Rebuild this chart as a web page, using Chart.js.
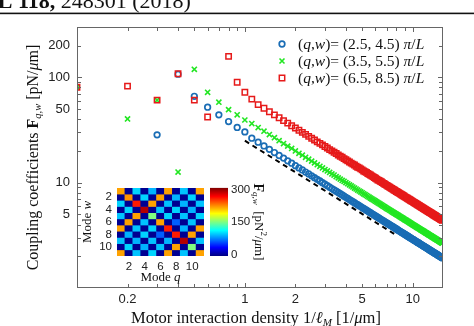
<!DOCTYPE html>
<html>
<head>
<meta charset="utf-8">
<script src="https://cdn.jsdelivr.net/npm/chart.js@4.4.1/dist/chart.umd.min.js"></script>
<style>
  html, body { margin: 0; padding: 0; background: #fff; }
  #wrap { position: relative; width: 474px; height: 326px; overflow: hidden; }
  #main { position: absolute; left: 0; top: 0; }
  #inset { position: absolute; left: 75px; top: 176px; }
</style>
</head>
<body>
<div id="wrap">
  <canvas id="main" width="474" height="326"></canvas>
  <canvas id="inset" width="200" height="110"></canvas>
</div>
<script>
// motor interaction density 1/l_M [1/um]
const densities = [
  0.1, 0.2, 0.3, 0.4, 0.5, 0.6, 0.7, 0.8, 0.9, 1.0,
  1.1, 1.2, 1.3, 1.4, 1.5, 1.6, 1.7, 1.8, 1.9, 2.0,
  2.1, 2.2, 2.3, 2.4, 2.5, 2.6, 2.7, 2.8, 2.9, 3.0,
  3.1, 3.2, 3.3, 3.4, 3.5, 3.6, 3.7, 3.8, 3.9, 4.0,
  4.1, 4.2, 4.3, 4.4, 4.5, 4.6, 4.7, 4.8, 4.9, 5.0,
  5.1, 5.2, 5.3, 5.4, 5.5, 5.6, 5.7, 5.8, 5.9, 6.0,
  6.1, 6.2, 6.3, 6.4, 6.5, 6.6, 6.7, 6.8, 6.9, 7.0,
  7.1, 7.2, 7.3, 7.4, 7.5, 7.6, 7.7, 7.8, 7.9, 8.0,
  8.1, 8.2, 8.3, 8.4, 8.5, 8.6, 8.7, 8.8, 8.9, 9.0,
  9.1, 9.2, 9.3, 9.4, 9.5, 9.6, 9.7, 9.8, 9.9, 10.0,
  10.1, 10.2, 10.3, 10.4, 10.5, 10.6, 10.7, 10.8, 10.9, 11.0,
  11.1, 11.2, 11.3, 11.4, 11.5, 11.6, 11.7, 11.8, 11.9, 12.0,
  12.1, 12.2, 12.3, 12.4, 12.5, 12.6, 12.7, 12.8, 12.9, 13.0,
  13.1, 13.2, 13.3, 13.4, 13.5, 13.6, 13.7, 13.8, 13.9, 14.0,
  14.1, 14.2, 14.3, 14.4, 14.5, 14.6, 14.7, 14.8, 14.9, 15.0
];

// (q,w) = (2.5, 4.5) pi/L
const blueCoef = [
  null, null, 28.4, 107, 66, 52, 44, 38, 33.4, 30.3,
  26.4, 24.2, 22.3, 20.7, 19.3, 18.1, 17.1, 16.1, 15.3, 14.5,
  13.8, 13.2, 12.6, 12.1, 11.6, 11.15, 10.74, 10.36, 10.0, 9.67,
  9.35, 9.06, 8.79, 8.53, 8.29, 8.06, 7.84, 7.63, 7.44, 7.25,
  7.07, 6.9, 6.74, 6.59, 6.44, 6.3, 6.17, 6.04, 5.92, 5.8,
  5.69, 5.58, 5.47, 5.37, 5.27, 5.18, 5.09, 5.0, 4.92, 4.83,
  4.75, 4.68, 4.6, 4.53, 4.46, 4.39, 4.33, 4.26, 4.2, 4.14,
  4.08, 4.03, 3.97, 3.92, 3.87, 3.82, 3.77, 3.72, 3.67, 3.63,
  3.58, 3.54, 3.49, 3.45, 3.41, 3.37, 3.33, 3.3, 3.26, 3.22,
  3.19, 3.15, 3.12, 3.09, 3.05, 3.02, 2.99, 2.96, 2.93, 2.9,
  2.87, 2.84, 2.82, 2.79, 2.76, 2.74, 2.71, 2.69, 2.66, 2.64,
  2.61, 2.59, 2.57, 2.54, 2.52, 2.5, 2.48, 2.46, 2.44, 2.42,
  2.4, 2.38, 2.36, 2.34, 2.32, 2.3, 2.28, 2.27, 2.25, 2.23,
  2.21, 2.2, 2.18, 2.16, 2.15, 2.13, 2.12, 2.1, 2.09, 2.07,
  2.06, 2.04, 2.03, 2.01, 2.0, 1.99, 1.97, 1.96, 1.95, 1.93
];

// (q,w) = (3.5, 5.5) pi/L
const greenCoef = [
  80.5, 40.2, 60.7, 12.6, 119, 72, 58, 49.3, 44, 39.3,
  36.4, 33.3, 30.8, 28.6, 26.7, 25.0, 23.5, 22.2, 21.1, 20.0,
  19.0, 18.2, 17.4, 16.7, 16.0, 15.4, 14.8, 14.3, 13.8, 13.3,
  12.9, 12.5, 12.1, 11.8, 11.4, 11.1, 10.8, 10.5, 10.3, 10.0,
  9.76, 9.52, 9.3, 9.09, 8.89, 8.7, 8.51, 8.33, 8.16, 8.0,
  7.84, 7.69, 7.55, 7.41, 7.27, 7.14, 7.02, 6.9, 6.78, 6.67,
  6.56, 6.45, 6.35, 6.25, 6.15, 6.06, 5.97, 5.88, 5.8, 5.71,
  5.63, 5.56, 5.48, 5.41, 5.33, 5.26, 5.19, 5.13, 5.06, 5.0,
  4.94, 4.88, 4.82, 4.76, 4.71, 4.65, 4.6, 4.55, 4.49, 4.44,
  4.4, 4.35, 4.3, 4.26, 4.21, 4.17, 4.12, 4.08, 4.04, 4.0,
  3.96, 3.92, 3.88, 3.85, 3.81, 3.77, 3.74, 3.7, 3.67, 3.64,
  3.6, 3.57, 3.54, 3.51, 3.48, 3.45, 3.42, 3.39, 3.36, 3.33,
  3.31, 3.28, 3.25, 3.23, 3.2, 3.17, 3.15, 3.13, 3.1, 3.08,
  3.05, 3.03, 3.01, 2.99, 2.96, 2.94, 2.92, 2.9, 2.88, 2.86,
  2.84, 2.82, 2.8, 2.78, 2.76, 2.74, 2.72, 2.7, 2.68, 2.67
];

// (q,w) = (6.5, 8.5) pi/L
const redCoef = [
  80.5, 82.4, 60.7, 108, 60.7, 42, null, 158, 89.8, 72,
  62, 55.0, 50.8, 47.1, 44.0, 41.3, 38.8, 36.7, 34.7, 33.0,
  31.4, 30.0, 28.7, 27.5, 26.4, 25.4, 24.4, 23.6, 22.8, 22.0,
  21.3, 20.6, 20.0, 19.4, 18.9, 18.3, 17.8, 17.4, 16.9, 16.5,
  16.1, 15.7, 15.3, 15.0, 14.7, 14.3, 14.0, 13.8, 13.5, 13.2,
  12.9, 12.7, 12.5, 12.2, 12.0, 11.8, 11.6, 11.4, 11.2, 11.0,
  10.8, 10.6, 10.5, 10.3, 10.2, 10.0, 9.85, 9.71, 9.57, 9.43,
  9.3, 9.17, 9.04, 8.92, 8.8, 8.68, 8.57, 8.46, 8.35, 8.25,
  8.15, 8.05, 7.95, 7.86, 7.76, 7.67, 7.59, 7.5, 7.42, 7.33,
  7.25, 7.17, 7.1, 7.02, 6.95, 6.88, 6.8, 6.73, 6.67, 6.6,
  6.53, 6.47, 6.41, 6.35, 6.29, 6.23, 6.17, 6.11, 6.06, 6.0,
  5.95, 5.89, 5.84, 5.79, 5.74, 5.69, 5.64, 5.59, 5.55, 5.5,
  5.45, 5.41, 5.37, 5.32, 5.28, 5.24, 5.2, 5.16, 5.12, 5.08,
  5.04, 5.0, 4.96, 4.93, 4.89, 4.85, 4.82, 4.78, 4.75, 4.71,
  4.68, 4.65, 4.62, 4.58, 4.55, 4.52, 4.49, 4.46, 4.43, 4.4
];

// dashed guide line ~ 1/x
const guideX = [1, 7.9];
const guideY = [25, 3.2];

const seriesNames = ['(2.5, 4.5)', '(3.5, 5.5)', '(6.5, 8.5)'];

const xTickValues = [0.1, 0.2, 0.3, 0.4, 0.5, 0.6, 0.7, 0.8, 0.9, 1, 2, 3, 4, 5, 6, 7, 8, 9, 10];
const xTickLabels = [0.2, 1, 2, 5, 10];
const yTickValues = [1, 2, 3, 4, 5, 6, 7, 8, 9, 10, 20, 30, 40, 50, 60, 70, 80, 90, 100, 200, 300];
const yTickLabels = [5, 10, 50, 100, 200];

// inset: F_{q,w} [pN^2/um], rows w = 1..11, columns q = 1..11
const modeQ = [1, 2, 3, 4, 5, 6, 7, 8, 9, 10, 11];
const modeW = [1, 2, 3, 4, 5, 6, 7, 8, 9, 10, 11];
const modeTicks = [2, 4, 6, 8, 10];
const modeMatrix = [
  [215, 5, 100, 5, 90, 5, 215, 5, 95, 5, 215],
  [5, 220, 5, 100, 5, 215, 5, 90, 5, 100, 5],
  [100, 5, 255, 5, 215, 5, 95, 5, 90, 5, 95],
  [5, 100, 5, 285, 5, 95, 5, 100, 5, 90, 5],
  [95, 5, 215, 5, 150, 5, 100, 5, 95, 5, 100],
  [5, 215, 5, 95, 5, 215, 5, 65, 5, 95, 5],
  [215, 5, 95, 5, 100, 5, 255, 5, 90, 5, 215],
  [5, 90, 5, 100, 5, 65, 5, 255, 5, 215, 5],
  [95, 5, 90, 5, 95, 5, 90, 5, 285, 5, 95],
  [5, 100, 5, 90, 5, 95, 5, 215, 5, 150, 5],
  [215, 5, 95, 5, 100, 5, 215, 5, 95, 5, 215]
];
const cbTicks = [0, 150, 300];
const cbMax = 300;

const serif = '"Liberation Serif", "DejaVu Serif", serif';
const sans = '"Liberation Sans", Arial, sans-serif';
const BLUE = '#1a6db5', GREEN = '#22e622', RED = '#e61a1a';

function f(size, style) {
  return (style || '') + ' ' + size + 'px ' + serif;
}

function jet(v) {
  const t = Math.max(0, Math.min(1, v / cbMax));
  const c = k => Math.round(255 * Math.max(0, Math.min(1, 1.5 - Math.abs(4 * t - k))));
  return 'rgb(' + c(3) + ',' + c(2) + ',' + c(1) + ')';
}

function pts(vals) {
  return densities.map((x, i) => ({ x: x, y: vals[i] })).filter(p => p.y !== null);
}

// draw text made of pieces with different fonts
function drawRich(ctx, parts, x, y, align) {
  let total = 0;
  parts.forEach(p => { ctx.font = p.font; p.w = ctx.measureText(p.text).width; total += p.w; });
  let cx = align === 'center' ? x - total / 2 : x;
  ctx.textAlign = 'left';
  parts.forEach(p => {
    ctx.font = p.font;
    ctx.fillText(p.text, cx, y + (p.dy || 0));
    cx += p.w;
  });
}

function marker(ctx, style, color, x, y) {
  ctx.save();
  ctx.strokeStyle = color;
  ctx.beginPath();
  if (style === 'circle') {
    ctx.lineWidth = 1.7;
    ctx.arc(x, y, 2.8, 0, Math.PI * 2);
  } else if (style === 'cross') {
    ctx.lineWidth = 1.6;
    ctx.moveTo(x - 2.5, y - 2.5); ctx.lineTo(x + 2.5, y + 2.5);
    ctx.moveTo(x + 2.5, y - 2.5); ctx.lineTo(x - 2.5, y + 2.5);
  } else {
    ctx.lineWidth = 1.5;
    ctx.rect(x - 2.7, y - 2.7, 5.4, 5.4);
  }
  ctx.stroke();
  ctx.restore();
}

const decorPlugin = {
  id: 'decor',
  afterDraw(chart) {
    const ctx = chart.ctx;
    const a = chart.chartArea;
    const xs = chart.scales.x, ys = chart.scales.y;
    ctx.save();

    // journal header (cut at top)
    ctx.fillStyle = '#111';
    ctx.textBaseline = 'alphabetic';
    ctx.font = f(22, 'bold');
    const lead = ctx.measureText('PRL ').width;
    drawRich(ctx, [
      { text: 'PRL 118,', font: f(22, 'bold') },
      { text: ' 248301 (2018)', font: f(22) }
    ], 18 - lead, 7.5, 'left');
    ctx.fillRect(0, 12.6, 474, 1.6);

    // frame
    ctx.strokeStyle = '#666';
    ctx.lineWidth = 1;
    ctx.strokeRect(a.left + 0.5, a.top + 0.5, a.right - a.left - 1, a.bottom - a.top - 1);

    // inward ticks on all sides
    ctx.beginPath();
    xTickValues.forEach(v => {
      const px = Math.round(xs.getPixelForValue(v)) + 0.5;
      if (px <= a.left + 1 || px >= a.right - 1) return;
      const len = (v === 1 || v === 10) ? 5 : 4;
      ctx.moveTo(px, a.bottom); ctx.lineTo(px, a.bottom - len);
      ctx.moveTo(px, a.top); ctx.lineTo(px, a.top + len);
    });
    yTickValues.forEach(v => {
      const py = Math.round(ys.getPixelForValue(v)) + 0.5;
      if (py <= a.top + 1 || py >= a.bottom - 1) return;
      const len = (v === 10 || v === 100) ? 5 : 4;
      ctx.moveTo(a.left, py); ctx.lineTo(a.left + len, py);
      ctx.moveTo(a.right, py); ctx.lineTo(a.right - len, py);
    });
    ctx.stroke();

    // axis titles
    ctx.fillStyle = '#111';
    ctx.textBaseline = 'alphabetic';
    drawRich(ctx, [
      { text: 'Motor interaction density 1/', font: f(16.5) },
      { text: 'ℓ', font: f(16.5, 'italic') },
      { text: 'M', font: f(11, 'italic'), dy: 3 },
      { text: ' [1/', font: f(16.5) },
      { text: 'μ', font: f(16.5, 'italic') },
      { text: 'm]', font: f(16.5) }
    ], 256, 323, 'center');

    ctx.save();
    ctx.translate(38, (a.top + a.bottom) / 2);
    ctx.rotate(-Math.PI / 2);
    drawRich(ctx, [
      { text: 'Coupling coefficients ', font: f(16) },
      { text: 'F', font: f(16, 'bold') },
      { text: 'q,w', font: f(10.5, 'italic'), dy: 3 },
      { text: ' [pN/', font: f(16) },
      { text: 'μ', font: f(16, 'italic') },
      { text: 'm]', font: f(16) }
    ], 0, 0, 'center');
    ctx.restore();

    // legend
    const styles = ['circle', 'cross', 'rect'];
    const colors = [BLUE, GREEN, RED];
    const rowsY = [44, 61, 78];
    ctx.textBaseline = 'middle';
    seriesNames.forEach((name, i) => {
      marker(ctx, styles[i], colors[i], 282, rowsY[i]);
      ctx.fillStyle = '#111';
      drawRich(ctx, [
        { text: '(', font: f(15.5) },
        { text: 'q', font: f(15.5, 'italic') },
        { text: ',', font: f(15.5) },
        { text: 'w', font: f(15.5, 'italic') },
        { text: ')= ' + name + ' ', font: f(15.5) },
        { text: 'π', font: f(15.5, 'italic') },
        { text: '/', font: f(15.5) },
        { text: 'L', font: f(15.5, 'italic') }
      ], 298, rowsY[i] + 1, 'left');
    });
    ctx.restore();
  }
};

new Chart(document.getElementById('main'), {
  type: 'scatter',
  data: {
    datasets: [
      {
        label: 'red', data: pts(redCoef), order: 0,
        pointStyle: 'rect', pointRadius: 3.8, pointBorderWidth: 1.5,
        pointBorderColor: RED, pointBackgroundColor: 'rgba(0,0,0,0)'
      },
      {
        label: 'green', data: pts(greenCoef), order: 1,
        pointStyle: 'crossRot', pointRadius: 3.6, pointBorderWidth: 1.6,
        pointBorderColor: GREEN, pointBackgroundColor: 'rgba(0,0,0,0)'
      },
      {
        label: 'blue', data: pts(blueCoef), order: 2,
        pointStyle: 'circle', pointRadius: 2.8, pointBorderWidth: 1.7,
        pointBorderColor: BLUE, pointBackgroundColor: 'rgba(0,0,0,0)'
      },
      {
        type: 'line', label: 'guide', order: 3,
        data: guideX.map((x, i) => ({ x: x, y: guideY[i] })),
        showLine: true, borderColor: '#000', borderWidth: 2, borderDash: [5, 4],
        pointRadius: 0, fill: false
      }
    ]
  },
  options: {
    responsive: false,
    animation: false,
    devicePixelRatio: 1,
    events: [],
    layout: { padding: { left: 0, right: 31, top: 27, bottom: 0 } },
    plugins: { legend: { display: false }, tooltip: { enabled: false } },
    scales: {
      x: {
        type: 'logarithmic', min: 0.1, max: 15.15,
        grid: { display: false, drawTicks: false }, border: { display: false },
        afterBuildTicks: s => { s.ticks = xTickValues.map(v => ({ value: v })); },
        afterFit: s => { s.height = 38; },
        ticks: {
          autoSkip: false, maxRotation: 0, padding: 4, color: '#222',
          font: { family: sans, size: 13 },
          callback: v => xTickLabels.includes(v) ? String(v) : ''
        }
      },
      y: {
        type: 'logarithmic', min: 1, max: 300,
        grid: { display: false, drawTicks: false }, border: { display: false },
        afterBuildTicks: s => { s.ticks = yTickValues.map(v => ({ value: v })); },
        afterFit: s => { s.width = 77; },
        ticks: {
          autoSkip: false, padding: 7, color: '#222',
          font: { family: sans, size: 13 },
          callback: v => yTickLabels.includes(v) ? String(v) : ''
        }
      }
    }
  },
  plugins: [decorPlugin]
});

const insetPlugin = {
  id: 'insetDecor',
  afterDraw(chart) {
    const ctx = chart.ctx;
    const a = chart.chartArea;
    ctx.save();
    // colorbar
    const cbL = 135, cbR = 153;
    const g = ctx.createLinearGradient(0, a.bottom, 0, a.top);
    for (let k = 0; k <= 16; k++) g.addColorStop(k / 16, jet(cbMax * k / 16));
    ctx.fillStyle = g;
    ctx.fillRect(cbL, a.top, cbR - cbL, a.bottom - a.top);
    ctx.fillStyle = '#222';
    ctx.font = '11.5px ' + sans;
    ctx.textAlign = 'left';
    ctx.textBaseline = 'middle';
    cbTicks.forEach(v => {
      const y = a.bottom - (a.bottom - a.top) * v / cbMax;
      ctx.fillText(String(v), cbR + 3, Math.min(Math.max(y, a.top + 2), a.bottom - 1));
    });
    // colorbar title
    ctx.fillStyle = '#111';
    ctx.save();
    ctx.translate(183, (a.top + a.bottom) / 2);
    ctx.rotate(Math.PI / 2);
    drawRich(ctx, [
      { text: 'F', font: f(14, 'bold') },
      { text: 'q,w', font: f(9, 'italic'), dy: 3 },
      { text: '  [pN', font: f(13) },
      { text: '2', font: f(9), dy: -5 },
      { text: '/', font: f(13) },
      { text: 'μ', font: f(13, 'italic') },
      { text: 'm]', font: f(13) }
    ], 0, 0, 'center');
    ctx.restore();
    // inset axis titles
    ctx.textBaseline = 'middle';
    drawRich(ctx, [
      { text: 'Mode ', font: f(13) },
      { text: 'q', font: f(13, 'italic') }
    ], (a.left + a.right) / 2, 102, 'center');
    ctx.save();
    ctx.translate(13, (a.top + a.bottom) / 2);
    ctx.rotate(-Math.PI / 2);
    drawRich(ctx, [
      { text: 'Mode ', font: f(13) },
      { text: 'w', font: f(13, 'italic') }
    ], 0, 0, 'center');
    ctx.restore();
    ctx.restore();
  }
};

new Chart(document.getElementById('inset'), {
  type: 'bar',
  data: {
    labels: modeQ,
    datasets: modeMatrix.map((row, i) => ({
      label: 'w=' + modeW[i],
      data: row.map(() => 1),
      backgroundColor: row.map(jet),
      borderWidth: 0,
      barPercentage: 1,
      categoryPercentage: 1
    }))
  },
  options: {
    responsive: false,
    animation: false,
    devicePixelRatio: 1,
    events: [],
    layout: { padding: { left: 0, right: 71, top: 8, bottom: 0 } },
    plugins: { legend: { display: false }, tooltip: { enabled: false } },
    scales: {
      x: {
        stacked: true,
        grid: { display: false, drawTicks: false }, border: { display: false },
        afterFit: s => { s.height = 30; },
        ticks: {
          autoSkip: false, maxRotation: 0, padding: 4, color: '#222',
          font: { family: sans, size: 11.5 },
          callback: (v, i) => modeTicks.includes(modeQ[i]) ? String(modeQ[i]) : ''
        }
      },
      y: {
        stacked: true, reverse: true, min: 0, max: 11,
        grid: { display: false, drawTicks: false }, border: { display: false },
        afterBuildTicks: s => { s.ticks = modeTicks.map(w => ({ value: w - 0.5 })); },
        afterFit: s => { s.width = 42; },
        ticks: {
          autoSkip: false, padding: 5, color: '#222',
          font: { family: sans, size: 11.5 },
          callback: v => String(v + 0.5)
        }
      }
    }
  },
  plugins: [insetPlugin]
});
</script>
</body>
</html>
